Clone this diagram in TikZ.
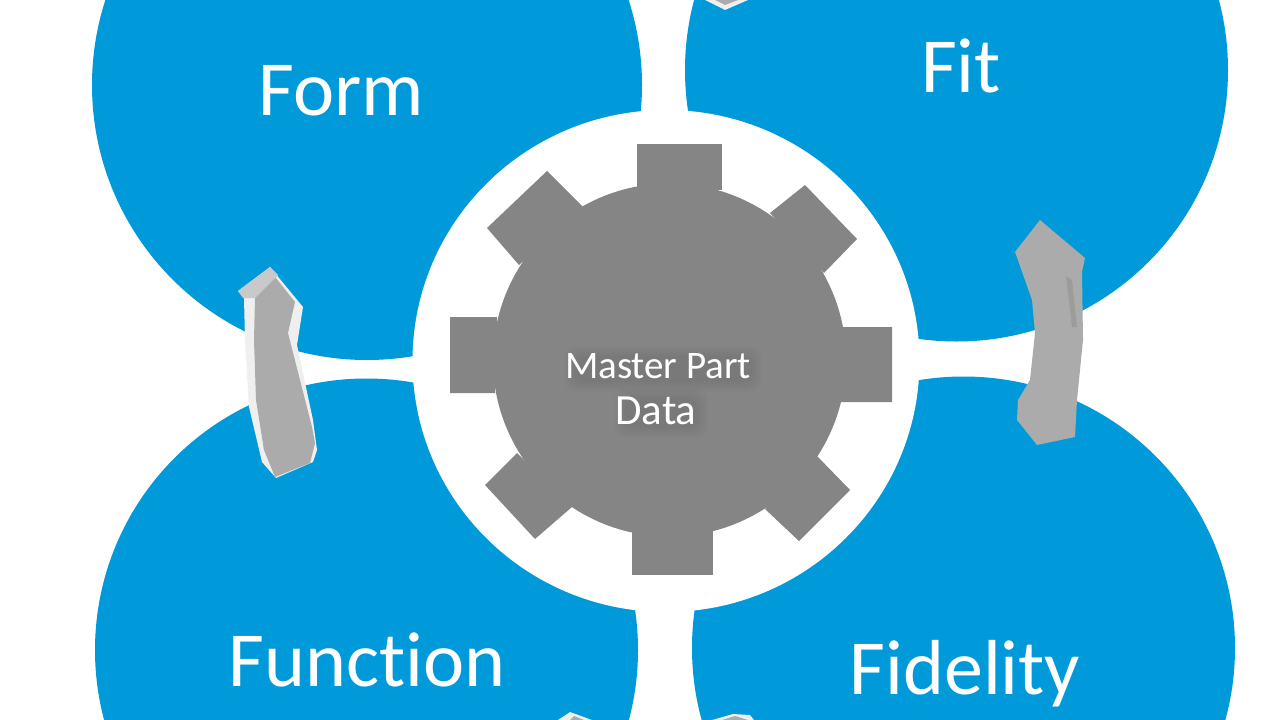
\documentclass[tikz,border=0pt]{standalone}
\usepackage{fontspec}
\setmainfont[Ligatures=NoCommon]{Carlito}
\definecolor{petal}{HTML}{0099D9}
\definecolor{cog}{HTML}{858585}
\definecolor{armgray}{HTML}{ABABAB}
\definecolor{armlight}{HTML}{EFEFEF}
\definecolor{armcap}{HTML}{C9C9C9}
\definecolor{armdark}{HTML}{8F8F8F}
\tikzset{
  petalfill/.style={fill=petal},
  biglabel/.style={text=white,font=\fontsize{78}{78}\selectfont,inner sep=0pt,anchor=base},
  smalllabel/.style={text=white,font=\fontsize{39}{39}\selectfont,inner sep=0pt,anchor=base},
  datalabel/.style={text=white,font=\fontsize{43}{43}\selectfont,inner sep=0pt,anchor=base},
  armbody/.style={fill=armgray},
  armhi/.style={fill=armlight},
}
\begin{document}
\begin{tikzpicture}[x=1pt,y=-1pt]
\useasboundingbox (0,0) rectangle (1280,720);
\clip (0,0) rectangle (1280,720);
\fill[white] (0,0) rectangle (1280,720);
% petals
\fill[petalfill] (367,85) circle[radius=275];
\fill[petalfill] (956.5,70) circle[radius=271.5];
\fill[petalfill] (366.5,650) circle[radius=271.5];
\fill[petalfill] (963.5,648) circle[radius=271.5];
% white hub
\fill[white] (666,361) ellipse[x radius=253.5,y radius=251];
% gear
\fill[cog] (669.5,360) circle[radius=176.5];
\fill[cog] (637,190) -- (637,144) -- (722,144) -- (722,190) -- cycle;
\fill[cog] (770,213) -- (805,185) -- (857,239) -- (824,273) -- cycle;
\fill[cog] (843,327) -- (892,327) -- (892,402) -- (840,402) -- cycle;
\fill[cog] (817,456) -- (850,490) -- (799,541) -- (765,509) -- cycle;
\fill[cog] (713,530) -- (713,575) -- (632,575) -- (632,530) -- cycle;
\fill[cog] (572,507) -- (535,539) -- (485,485) -- (517,453) -- cycle;
\fill[cog] (495,393) -- (450,393) -- (450,317) -- (497,317) -- cycle;
\fill[cog] (519,265) -- (487,228) -- (547,171) -- (583,207) -- cycle;
% left arrow
\fill[armhi] (238,291) -- (270,267) -- (303,307) -- (297,345) -- (313,420) -- (317,450) -- (313,462) -- (276,478) -- (262,462) -- (249,407) -- (245,340) -- (244,298) -- cycle;
\fill[armbody] (255,298) -- (272,273) -- (295,302) -- (288,333) -- (312,427) -- (315,443) -- (310,463) -- (275,477) -- (264,450) -- (256,400) -- (254,340) -- cycle;
\fill[armcap] (238,291) -- (270,267) -- (278,275) -- (255,298) -- (243,298) -- cycle;
% right arrow
\fill[armgray] (1015,252) -- (1040,220) -- (1085,258) -- (1082,272) -- (1083,340) -- (1077,400) -- (1075,437) -- (1037,445) -- (1017,420) -- (1018,400) -- (1030,380) -- (1035,333) -- (1032,300) -- cycle;
\fill[armdark,opacity=.5] (1066,276) -- (1072,280) -- (1077,327) -- (1072,327) -- cycle;
% arrow fragments at the edges
\fill[armlight] (705,0) -- (725,10) -- (748,0) -- cycle;
\fill[armgray] (715,0) -- (725,5) -- (738,0) -- cycle;
\fill[armlight] (558,720) -- (570,712) -- (592,720) -- cycle;
\fill[armgray] (570,720) -- (574,716) -- (584,720) -- cycle;
\fill[armlight] (712,720) -- (733,714) -- (750,715) -- (754,720) -- cycle;
\fill[armgray] (722,720) -- (735,716) -- (748,720) -- cycle;
% soft shadow behind the centre label
\foreach \g in {0,2,4,6,8,10}{
  \fill[black,opacity=.012,rounded corners=12pt] (574-\g,356-\g) rectangle (752+\g,382+\g);
  \fill[black,opacity=.012,rounded corners=12pt] (624-\g,398-\g) rectangle (698+\g,428+\g);
}
% labels
\node[biglabel] (form) at (341,115) {Form};
\node[biglabel] (fit) at (961,92) {Fit};
\node[biglabel] (function) at (367,686) {Function};
\node[biglabel] (fidelity) at (965,694) {Fidelity};
\node[smalllabel] (master) at (658,378) {Master Part};
\node[datalabel] (data) at (656,424) {Data};
\end{tikzpicture}
\end{document}
